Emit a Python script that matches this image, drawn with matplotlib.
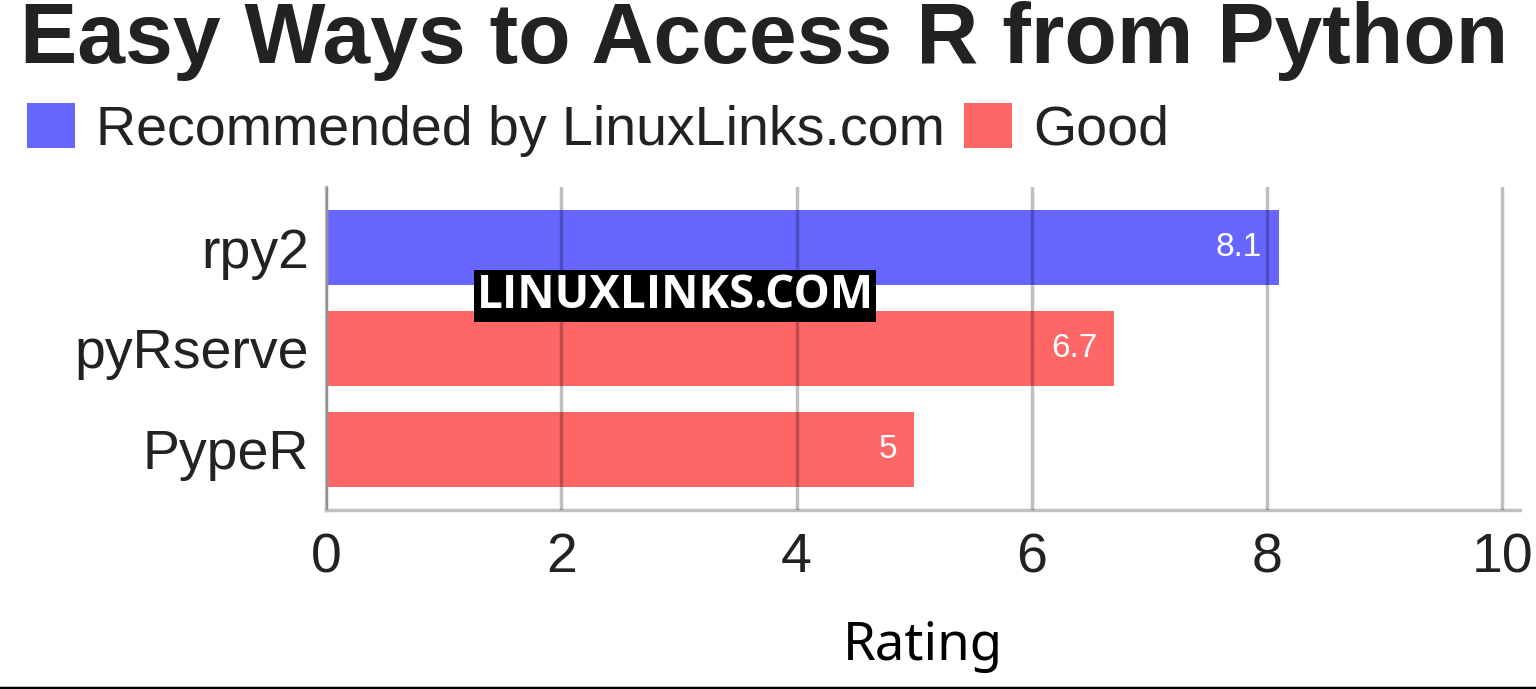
import matplotlib.pyplot as plt
from matplotlib.patches import Patch
from matplotlib.lines import Line2D

#----- Data -----------------------------------------------------------------------------------

tools = ["rpy2", "pyRserve", "PypeR"]
ratings = [8.1, 6.7, 5]
groups = ["rec", "good", "good"]
xticks = [0, 2, 4, 6, 8, 10]

col_rec = "#6666ff"
col_good = "#ff6666"
txt = "#222222"

#----- Plot -----------------------------------------------------------------------------------

plt.rcParams['font.family'] = ['Liberation Sans', 'DejaVu Sans']

fig = plt.figure(figsize=(15.36, 6.89), dpi=100)
ax = fig.add_axes([326/1536, 1 - 510/689, (1520 - 326)/1536, (510 - 187)/689])

colors = [col_rec if g == "rec" else col_good for g in groups]
ypos = list(range(len(tools)))
bars = ax.barh(ypos, ratings, height=0.75, color=colors, zorder=1)

for y, v in zip(ypos, ratings):
    ax.annotate(f"{v:g}", xy=(v, y), xytext=(-12, 0), textcoords="offset points",
                ha="right", va="center", color="white", fontsize=24, zorder=3)

ax.set_xlim(0, 10.15)
ax.set_ylim(2.6, -0.6)
ax.set_xticks(xticks)
ax.set_xticklabels([str(t) for t in xticks], fontsize=40, color=txt)
ax.set_yticks(ypos)
ax.set_yticklabels(tools, fontsize=40, color=txt)
ax.tick_params(axis="both", length=0)
ax.tick_params(axis="y", pad=12)
ax.tick_params(axis="x", pad=16)

ax.grid(axis="x", color="black", alpha=0.25, linewidth=2.5, zorder=2)
ax.set_axisbelow(False)
for s in ["top", "right"]:
    ax.spines[s].set_visible(False)
for s in ["left", "bottom"]:
    ax.spines[s].set_color("#c0c0c0")
    ax.spines[s].set_linewidth(2.5)

ax.set_xlabel("Rating", fontsize=38, family="Noto Sans", color="black", labelpad=26)

fig.text(20/1536, 1 - 63/689, "Easy Ways to Access R from Python", fontsize=61.8,
         fontweight="bold", color=txt, va="baseline", ha="left")

handles = [Patch(facecolor=col_rec, label="Recommended by LinuxLinks.com"),
           Patch(facecolor=col_good, label="Good")]
fig.legend(handles=handles, loc="center left", bbox_to_anchor=(-23/1536, 1 - 130/689),
           ncol=2, frameon=False, fontsize=40, handlelength=0.86, handleheight=0.86,
           handletextpad=0.38, columnspacing=0.35, labelcolor=txt)

# watermark
fig.text(675/1536, 1 - 296/689, "LINUXLINKS.COM", fontsize=33, fontweight="bold",
         family="Open Sans", color="white", ha="center", va="center",
         bbox=dict(facecolor="black", edgecolor="none", pad=1.5))

# bottom border
fig.add_artist(Line2D([0, 1], [0.002, 0.002], transform=fig.transFigure, color="black", linewidth=2.5))

fig.savefig("out.png", dpi=100)
